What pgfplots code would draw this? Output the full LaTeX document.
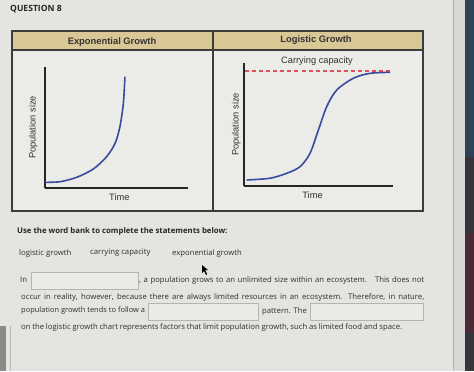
\documentclass[border=0pt]{standalone}
\usepackage{pgfplots}
\pgfplotsset{compat=1.18}
\usepackage{fontspec}
\setmainfont{Open Sans}
\newfontfamily\arial{Liberation Sans}
\definecolor{colbg}{HTML}{E4E4E1}
\definecolor{colpanel}{HTML}{EBEBE8}
\definecolor{coltan}{HTML}{D9C796}
\definecolor{colborder}{HTML}{3C3C3C}
\definecolor{colcurve}{HTML}{3A4A9E}
\definecolor{colcap}{HTML}{E0505C}
\definecolor{coltxt}{HTML}{2E2E2E}
\definecolor{edgelight}{HTML}{D8D8D4}
\definecolor{edgeline}{HTML}{B0B0AC}
\definecolor{scrblue}{HTML}{2E4256}
\definecolor{scrred}{HTML}{4A2A36}
\definecolor{scrdark}{HTML}{34363C}
\definecolor{leftdark}{HTML}{8A8A88}
\definecolor{leftline}{HTML}{B8B8B4}
\definecolor{boxfill}{HTML}{EAEAE7}
\definecolor{boxline}{HTML}{B4B4B0}
\begin{document}
\begin{tikzpicture}[x=1bp,y=1bp]
\path[use as bounding box] (0,0) rectangle (474,371);
\fill[colbg] (0,0) rectangle (474,371);
% right edge of screen
\fill[edgelight] (453,0) rectangle (465,371);
\draw[edgeline, line width=0.6bp] (453,0) -- (453,371);
\fill[scrblue] (465,0) rectangle (474,371);
\fill[scrdark] (465,0) rectangle (474,214);
\fill[scrred] (465,38) rectangle (474,138);
% left edge
\fill[leftdark] (0,0) rectangle (6,45);
\draw[leftline, line width=0.5bp] (10,0) -- (10,45);
% title
\node[anchor=west, inner xsep=0, font=\bfseries\fontsize{8.6}{10}\selectfont, text=black!85] at (10,362) {QUESTION 8};
% table
\fill[colpanel] (12,160) rectangle (423,321);
\fill[coltan] (12,321) rectangle (423,340);
\draw[colborder, line width=1.2bp] (12,160) rectangle (423,340);
\draw[colborder, line width=1.2bp] (12,321) -- (423,321);
\draw[colborder, line width=1.2bp] (213,160) -- (213,340);
\node[font=\arial\bfseries\fontsize{9.4}{11}\selectfont, text=black!80] at (112,328.5) {Exponential Growth};
\node[font=\arial\bfseries\fontsize{9.4}{11}\selectfont, text=black!80] at (316,330.5) {Logistic Growth};
% left chart
\begin{axis}[at={(45bp,183bp)}, anchor=south west, scale only axis, width=143bp, height=121bp,
  xmin=0, xmax=10, ymin=0, ymax=10, axis lines*=left, axis line style={black!85, line width=1.2bp, -},
  xtick=\empty, ytick=\empty, clip=false,
  xlabel={\arial\fontsize{9.3}{10}\selectfont Time}, xlabel style={at={(axis description cs:0.52,0)}, yshift=-2bp, text=black!80},
  ylabel={\arial\fontsize{9.3}{10}\selectfont Population size}, ylabel style={yshift=4bp, text=black!80}]
\addplot[colcurve, line width=1.6bp, smooth] coordinates {(0,0.47) (1.05,0.52) (2.21,0.88) (3.38,1.57) (4.31,2.59) (4.9,3.69) (5.24,5.07) (5.48,7.0) (5.59,9.2)};
\end{axis}
% right chart
\begin{axis}[at={(244bp,185bp)}, anchor=south west, scale only axis, width=149bp, height=123bp,
  xmin=0, xmax=10, ymin=0, ymax=10, axis lines*=left, axis line style={black!85, line width=1.2bp, -},
  xtick=\empty, ytick=\empty, clip=false,
  xlabel={\arial\fontsize{9.3}{10}\selectfont Time}, xlabel style={at={(axis description cs:0.46,0)}, yshift=-2bp, text=black!80},
  ylabel={\arial\fontsize{9.3}{10}\selectfont Population size}, ylabel style={yshift=0bp, text=black!80}]
\addplot[colcap, line width=1.3bp, dash pattern=on 4bp off 3bp] coordinates {(0.1,9.35) (9.8,9.35)};
\addplot[colcurve, line width=1.6bp, smooth] coordinates {(0.18,0.49) (1.74,0.63) (2.86,1.03) (3.76,1.57) (4.43,2.66) (4.99,4.55) (5.55,6.45) (6.22,7.8) (7.34,8.76) (8.46,9.16) (9.8,9.24)};
\node[font=\arial\fontsize{9.3}{10}\selectfont, text=black!80] at (axis cs:4.9,10.15) {Carrying capacity};
\end{axis}
% text below
\node[anchor=west, inner xsep=0, font=\bfseries\fontsize{7.8}{9}\selectfont, text=black!85] at (17,140) {Use the word bank to complete the statements below:};
\begin{scope}[font=\fontsize{7.75}{9}\selectfont, text=coltxt]
\node[anchor=west, inner xsep=0] at (19,118) {logistic growth};
\node[anchor=west, inner xsep=0] at (90,118) {carrying capacity};
\node[anchor=west, inner xsep=0] at (172,118) {exponential growth};
\node[anchor=west, inner xsep=0] at (20,91) {In};
\fill[boxfill] (31,82) rectangle (138,99);
\draw[boxline, line width=0.5bp] (31,82) rectangle (138,99);
\node[anchor=west, inner xsep=0] at (139,91) {\makebox[285bp][s]{, a population grows to an unlimited size within an ecosystem.\hspace{0.5em} This does not}};
\node[anchor=west, inner xsep=0] at (21,74) {\makebox[403bp][s]{occur in reality, however, because there are always limited resources in an ecosystem. Therefore, in nature,}};
\node[anchor=west, inner xsep=0, font=\fontsize{7.5}{9}\selectfont] at (21,60) {population growth tends to follow a};
\fill[boxfill] (148,51) rectangle (258,68);
\draw[boxline, line width=0.5bp] (148,51) rectangle (258,68);
\node[anchor=west, inner xsep=0] at (262,60) {pattern. The};
\fill[boxfill] (310,51) rectangle (423,68);
\draw[boxline, line width=0.5bp] (310,51) rectangle (423,68);
\node[anchor=west, inner xsep=0] at (21,44) {\makebox[381bp][s]{on the logistic growth chart represents factors that limit population growth, such as limited food and space.}};
\end{scope}
% cursor
\fill[black] (202,106) -- (202,98) -- (204,100) -- (206,96) -- (207,97) -- (205,101) -- (208,101) -- cycle;
\end{tikzpicture}
\end{document}
